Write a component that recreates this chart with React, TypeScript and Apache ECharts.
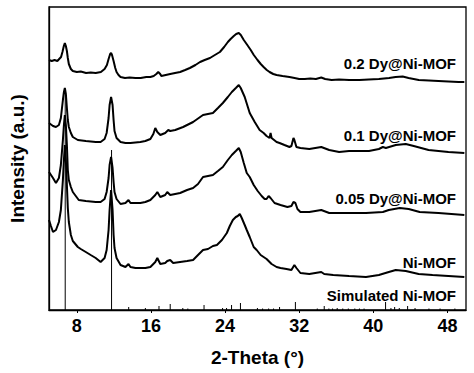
import React, { useEffect, useRef } from "react";
import * as echarts from "echarts";

const xTicks = [8, 16, 24, 32, 40, 48];

const trace02: [number, number][] = [
  [5.0,250],[5.3,249],[5.6,250],[5.9,249],[6.1,251],[6.3,253],[6.45,258],[6.6,264],[6.71,267],[6.82,264],[6.93,259],[7.03,252],[7.14,246],[7.36,241],[7.57,239],[8.0,238],[8.43,238.5],[9.0,237],[9.5,237.5],[10.04,237],[10.6,238],[11.0,241],[11.25,245],[11.43,251],[11.6,256],[11.70,257],[11.8,255],[11.97,249],[12.15,242],[12.29,238],[12.5,235],[12.72,233],[13.2,232],[13.7,232.5],[14.33,232],[14.9,232],[15.5,233],[15.94,233],[16.3,234],[16.58,236],[16.79,238],[17.0,236],[17.12,234],[17.6,235],[18.08,236],[18.6,237],[19.15,238],[19.69,240],[20.2,242],[20.8,245],[21.3,248],[21.8,250],[22.37,252],[22.9,255],[23.44,258],[23.9,263],[24.3,268],[24.6,271],[24.94,274],[25.2,276],[25.48,277],[25.7,275],[26.02,270],[26.4,265],[26.77,260],[27.1,255],[27.5,250],[27.85,246],[28.16,243],[28.5,240],[28.8,238],[29.2,236],[29.56,235],[30.2,234],[30.95,233],[31.5,232],[32.0,231],[32.6,231],[33.2,231.5],[33.8,231],[34.38,232.5],[34.8,231],[35.5,230],[36.3,230.5],[37.4,230],[38.5,230],[39.5,230.5],[40.6,231],[41.7,232],[42.4,233],[43.17,233.5],[43.8,232],[44.9,230],[46.0,229.5],[47.03,229],[48.1,228.5],[49.2,228],[49.82,228]
];

const trace01: [number, number][] = [
  [5.0,187],[5.43,184],[5.75,183],[6.07,185],[6.28,192],[6.5,210],[6.61,218],[6.71,222],[6.82,216],[6.93,202],[7.03,190],[7.14,183],[7.36,177],[7.57,173],[8.11,170],[8.97,169],[10.04,168],[10.57,168],[11.0,171],[11.22,177],[11.43,192],[11.54,205],[11.70,213],[11.86,205],[11.97,190],[12.07,179],[12.29,172],[12.72,168],[13.25,167],[13.79,167],[14.86,168],[15.40,169],[15.94,171],[16.26,176],[16.47,182],[16.69,178],[17.01,175],[17.54,177],[17.87,180],[18.08,179],[18.62,180],[19.47,183],[20.55,188],[21.62,195],[22.69,197],[23.23,202],[23.76,207],[24.30,213],[24.73,218],[25.16,222],[25.48,225],[25.69,222],[26.12,213],[26.66,197],[27.2,188],[27.73,180],[28.16,177],[28.48,174],[28.80,172],[28.91,177],[29.02,172],[29.56,168],[29.88,167],[30.41,165],[30.95,163],[31.16,164],[31.38,172],[31.48,170],[31.70,163],[32.13,162],[33.09,161],[34.38,163],[35.24,160],[36.31,158],[37.38,159],[38.46,159],[39.53,159],[40.60,161],[41.03,163],[41.35,162],[42.42,165],[43.50,166],[44.36,164],[45.96,160],[47.03,159],[48.10,158],[49.82,157]
];

const trace005: [number, number][] = [
  [5.0,138],[5.43,132],[5.75,127],[6.07,132],[6.28,145],[6.5,170],[6.61,185],[6.71,195],[6.82,185],[6.93,165],[7.03,140],[7.14,130],[7.36,123],[7.57,118],[8.21,110],[8.97,109],[10.04,108],[10.57,108],[11.0,111],[11.22,118],[11.43,132],[11.54,145],[11.70,153],[11.86,142],[11.97,128],[12.07,118],[12.29,111],[12.72,106],[13.25,107],[13.58,110],[13.79,107],[14.86,107],[15.40,108],[15.94,110],[16.47,115],[16.69,118],[17.01,113],[17.54,115],[17.76,118],[18.08,115],[19.15,117],[19.9,120],[20.55,122],[21.08,126],[21.62,133],[22.16,134],[22.69,135],[23.23,139],[23.76,143],[24.30,150],[24.73,155],[25.16,159],[25.48,162],[25.69,158],[26.02,147],[26.34,137],[26.66,133],[27.09,125],[27.52,119],[27.95,114],[28.27,111],[28.48,111],[28.70,114],[28.91,112],[29.34,107],[29.98,105],[30.73,103],[31.16,104],[31.38,108],[31.59,107],[31.81,101],[32.13,98],[33.09,98],[34.38,100],[35.24,97],[36.31,97],[37.38,97],[39.21,97],[41.03,98],[41.67,100],[42.85,102],[43.82,101],[45.0,98],[47.03,97],[49.82,95]
];

const traceNi: [number, number][] = [
  [5.0,90],[5.21,84],[5.43,78],[5.75,80],[6.07,88],[6.28,100],[6.5,130],[6.61,150],[6.71,165],[6.82,150],[6.93,125],[7.03,102],[7.14,88],[7.36,75],[7.57,69],[8.11,63],[8.43,61],[8.97,58],[9.50,55],[10.04,52],[10.57,48],[11.0,52],[11.22,60],[11.43,80],[11.54,100],[11.70,120],[11.86,100],[11.97,75],[12.07,62],[12.29,52],[12.72,45],[13.25,43],[13.58,46],[13.79,43],[14.33,42],[14.86,42],[15.40,42],[15.94,43],[16.47,48],[16.69,52],[17.01,46],[17.54,47],[17.76,49],[18.08,50],[18.40,47],[19.15,48],[19.90,49],[20.55,50],[21.08,55],[21.62,60],[22.16,61],[22.69,64],[23.12,65],[23.66,70],[24.19,77],[24.51,84],[24.84,90],[25.16,93],[25.37,94],[25.59,96],[25.80,92],[26.12,85],[26.34,80],[26.66,73],[27.09,63],[27.41,60],[27.84,55],[28.48,51],[29.02,46],[29.56,43],[29.98,42],[30.63,41],[31.16,40],[31.48,45],[31.70,42],[32.13,37],[33.09,36],[34.38,38],[34.70,36],[35.67,35],[37.38,34],[39.21,33],[40.60,35],[41.67,38],[42.42,40],[43.50,39],[44.89,36],[46.39,35],[48.10,34],[49.82,33]
];

const simulated: [number, number][] = [
  [6.75,220],[11.75,160],[13.6,3],[15.4,2],[16.87,4],[18.08,6],[19.44,2],[19.98,1.5],[21.73,5],[23.73,2],[24.16,2],[24.7,5],[25.66,7],[27.49,2],[28.05,1.5],[28.7,1.5],[29.23,1.5],[29.88,3],[31.59,8],[33.95,1.5],[34.7,4],[35.2,1.5],[35.6,1.5],[36.1,2],[36.7,1.5],[37.3,1.5],[38.0,1.5],[38.5,1.5],[39.0,1.5],[41.32,8],[41.9,2],[42.3,3],[42.8,2],[43.7,4],[44.5,2],[46.0,1.5],[47.2,1.5],[48.8,1.5]
];

const labels = ["0.2 Dy@Ni-MOF", "0.1 Dy@Ni-MOF", "0.05 Dy@Ni-MOF", "Ni-MOF", "Simulated Ni-MOF"];
const labelY = [63, 135, 198, 262, 295];

const FONT = "'Liberation Sans', Arial, sans-serif";

export default function App() {
  const ref = useRef<HTMLDivElement>(null);
  useEffect(() => {
    if (!ref.current) return;
    const chart = echarts.init(ref.current, null, { renderer: "svg" });
    const lineSeries = [trace02, trace01, trace005, traceNi].map((d) => ({
      type: "line",
      data: d,
      showSymbol: false,
      symbol: "none",
      lineStyle: { color: "#000", width: 2 },
      z: 3,
    }));
    chart.setOption({
      animation: false,
      backgroundColor: "#fff",
      grid: { left: 48, right: 8, top: 7, bottom: 63, show: true, borderColor: "#000", borderWidth: 1.3 },
      xAxis: {
        type: "value",
        min: 5,
        max: 50,
        name: "2-Theta (°)",
        nameLocation: "middle",
        nameGap: 38,
        nameTextStyle: { fontFamily: FONT, fontWeight: "bold", fontSize: 19, color: "#000" },
        axisLine: { show: true, lineStyle: { color: "#000", width: 1.3 } },
        axisTick: { show: true, customValues: xTicks, length: 3, lineStyle: { color: "#000" } },
        axisLabel: { customValues: xTicks, fontFamily: FONT, fontWeight: "bold", fontSize: 18, color: "#000", margin: 7 },
        splitLine: { show: false },
      },
      yAxis: {
        type: "value",
        min: 0,
        max: 303,
        name: "Intensity (a.u.)",
        nameLocation: "middle",
        nameRotate: 90,
        nameGap: 22,
        nameTextStyle: { fontFamily: FONT, fontWeight: "bold", fontSize: 19, color: "#000" },
        axisLine: { show: true, lineStyle: { color: "#000", width: 1.3 } },
        axisTick: { show: false },
        axisLabel: { show: false },
        splitLine: { show: false },
      },
      graphic: labels.map((t, i) => ({
        type: "text",
        x: 456,
        y: labelY[i],
        z: 10,
        style: { text: t, align: "right", verticalAlign: "middle", font: `bold 15px ${FONT}`, fill: "#000" },
      })),
      series: [
        ...lineSeries,
        {
          type: "custom",
          data: simulated,
          z: 2,
          renderItem: (params: any, api: any) => {
            const x = api.value(0);
            const h = api.value(1);
            const p0 = api.coord([x, 0]);
            const p1 = api.coord([x, h]);
            return {
              type: "line",
              shape: { x1: p0[0], y1: p0[1], x2: p1[0], y2: p1[1] },
              style: { stroke: "#000", lineWidth: 1 },
            };
          },
        },
      ],
    });
    return () => chart.dispose();
  }, []);
  return <div ref={ref} style={{ position: "fixed", left: 0, top: 0, width: 474, height: 373 }} />;
}
